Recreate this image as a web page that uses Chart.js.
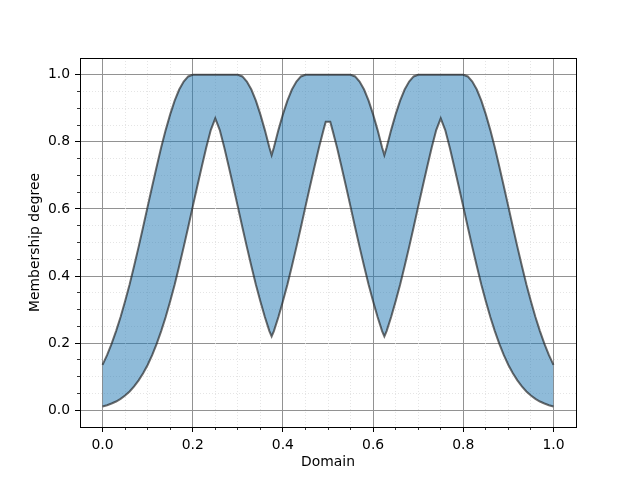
<!DOCTYPE html>
<html>
<head>
<meta charset="utf-8">
<script src="https://cdn.jsdelivr.net/npm/chart.js@4.4.1/dist/chart.umd.min.js"></script>
<style>
  body { margin: 0; background: #fff; }
</style>
</head>
<body>
<canvas id="myChart" width="640" height="480"></canvas>
<script>
// domain samples and the two membership curves
const domain = [0, 0.01, 0.02, 0.03, 0.04, 0.05, 0.06, 0.07, 0.08, 0.09,
  0.1, 0.11, 0.12, 0.13, 0.14, 0.15, 0.16, 0.17, 0.18, 0.19,
  0.2, 0.21, 0.22, 0.23, 0.24, 0.25, 0.26, 0.27, 0.28, 0.29,
  0.3, 0.31, 0.32, 0.33, 0.34, 0.35, 0.36, 0.37, 0.375, 0.38, 0.39,
  0.4, 0.41, 0.42, 0.43, 0.44, 0.45, 0.46, 0.47, 0.48, 0.49, 0.495,
  0.505, 0.51, 0.52, 0.53, 0.54, 0.55, 0.56, 0.57, 0.58, 0.59,
  0.6, 0.61, 0.62, 0.625, 0.63, 0.64, 0.65, 0.66, 0.67, 0.68, 0.69,
  0.7, 0.71, 0.72, 0.73, 0.74, 0.75, 0.76, 0.77, 0.78, 0.79,
  0.8, 0.81, 0.82, 0.83, 0.84, 0.85, 0.86, 0.87, 0.88, 0.89,
  0.9, 0.91, 0.92, 0.93, 0.94, 0.95, 0.96, 0.97, 0.98, 0.99, 1.0];

const upperMF = [0.135, 0.164, 0.198, 0.236, 0.278, 0.325, 0.375, 0.430, 0.487, 0.546,
  0.607, 0.667, 0.726, 0.783, 0.835, 0.882, 0.923, 0.956, 0.980, 0.995,
  1, 1, 1, 1, 1, 1, 1, 1, 1, 1,
  1, 0.995, 0.980, 0.956, 0.923, 0.882, 0.835, 0.783, 0.76, 0.783, 0.835,
  0.882, 0.923, 0.956, 0.980, 0.995, 1, 1, 1, 1, 1, 1,
  1, 1, 1, 1, 1, 1, 0.995, 0.980, 0.956, 0.923,
  0.882, 0.835, 0.783, 0.76, 0.783, 0.835, 0.882, 0.923, 0.956, 0.980, 0.995,
  1, 1, 1, 1, 1, 1, 1, 1, 1, 1,
  1, 0.995, 0.980, 0.956, 0.923, 0.882, 0.835, 0.783, 0.726, 0.667,
  0.607, 0.546, 0.487, 0.430, 0.375, 0.325, 0.278, 0.236, 0.198, 0.164, 0.135];

const lowerMF = [0.011, 0.015, 0.020, 0.026, 0.034, 0.044, 0.056, 0.071, 0.089, 0.110,
  0.135, 0.164, 0.198, 0.236, 0.278, 0.325, 0.375, 0.430, 0.487, 0.546,
  0.607, 0.667, 0.726, 0.783, 0.835, 0.87, 0.835, 0.783, 0.726, 0.667,
  0.607, 0.546, 0.487, 0.430, 0.375, 0.325, 0.278, 0.236, 0.22, 0.236, 0.278,
  0.325, 0.375, 0.430, 0.487, 0.546, 0.607, 0.667, 0.726, 0.783, 0.835, 0.86,
  0.86, 0.835, 0.783, 0.726, 0.667, 0.607, 0.546, 0.487, 0.430, 0.375,
  0.325, 0.278, 0.236, 0.22, 0.236, 0.278, 0.325, 0.375, 0.430, 0.487, 0.546,
  0.607, 0.667, 0.726, 0.783, 0.835, 0.87, 0.835, 0.783, 0.726, 0.667,
  0.607, 0.546, 0.487, 0.430, 0.375, 0.325, 0.278, 0.236, 0.198, 0.164,
  0.135, 0.110, 0.089, 0.071, 0.056, 0.044, 0.034, 0.026, 0.020, 0.015, 0.011];

const axisMin = -0.05;
const axisMax = 1.05;
const majorStep = 0.2;
const minorStep = 0.05;

Chart.defaults.font.family = 'DejaVu Sans';
Chart.defaults.font.size = 13.9;
Chart.defaults.color = '#000';

function isMajor(v) {
  return Math.abs(v / majorStep - Math.round(v / majorStep)) < 1e-6 && v > -1e-6 && v < 1 + 1e-6;
}
function isBound(v) {
  return Math.abs(v - axisMin) < 1e-6 || Math.abs(v - axisMax) < 1e-6;
}

// main axis: labels, major ticks, solid grid
function majorAxis(position, size, titleText, titlePad) {
  return {
    type: 'linear', position: position, weight: 1,
    min: axisMin, max: axisMax,
    ticks: {
      stepSize: majorStep, includeBounds: false, autoSkip: false, maxRotation: 0,
      padding: 5,
      callback: v => isMajor(v) ? v.toFixed(1) : ''
    },
    grid: { color: '#929292', lineWidth: 1, tickLength: 5, tickColor: '#000', tickWidth: 1 },
    border: { display: true, color: '#000', width: 1 },
    title: { display: true, text: titleText, padding: titlePad, font: { size: 13.9 } },
    afterFit: s => { if (position === 'left') s.width = size; else s.height = size; }
  };
}

// minor axis: dotted grid + short ticks, takes no space
function minorAxis(position, axis) {
  return {
    type: 'linear', axis: axis, position: position, weight: 0,
    min: axisMin, max: axisMax,
    ticks: { display: false, stepSize: minorStep, autoSkip: false },
    grid: {
      color: c => (isMajor(c.tick.value) || isBound(c.tick.value)) ? 'rgba(0,0,0,0)' : '#dedede',
      lineWidth: 0.8,
      tickLength: 3,
      tickWidth: 0.8,
      tickColor: c => (isMajor(c.tick.value) || isBound(c.tick.value)) ? 'rgba(0,0,0,0)' : '#000'
    },
    border: { display: false, dash: [1, 2] },
    afterFit: s => { if (position === 'left') s.width = 0; else s.height = 0; }
  };
}

// plain spines on top and right
function spineAxis(position, axis) {
  return {
    type: 'linear', axis: axis, position: position,
    min: axisMin, max: axisMax,
    ticks: { display: false },
    grid: { drawOnChartArea: false, drawTicks: false },
    border: { display: true, color: '#000', width: 1 },
    afterFit: s => { if (position === 'right') s.width = 0; else s.height = 0; }
  };
}

const ctx = document.getElementById('myChart').getContext('2d');

new Chart(ctx, {
  type: 'line',
  data: {
    datasets: [{
      label: 'Upper',
      data: domain.map((x, i) => ({ x: x, y: upperMF[i] })),
      xAxisID: 'x', yAxisID: 'y',
      borderColor: 'rgba(30,30,30,0.65)',
      borderWidth: 2,
      pointRadius: 0,
      tension: 0,
      fill: '+1',
      backgroundColor: 'rgba(31,119,180,0.5)'
    }, {
      label: 'Lower',
      data: domain.map((x, i) => ({ x: x, y: lowerMF[i] })),
      xAxisID: 'x', yAxisID: 'y',
      borderColor: 'rgba(30,30,30,0.65)',
      borderWidth: 2,
      pointRadius: 0,
      tension: 0,
      fill: false
    }]
  },
  options: {
    responsive: false,
    animation: false,
    layout: { padding: { top: 58, right: 64, left: 0, bottom: 0 } },
    plugins: {
      legend: { display: false },
      tooltip: { enabled: false },
      filler: { drawTime: 'beforeDatasetsDraw' }
    },
    scales: {
      x: majorAxis('bottom', 53, 'Domain', { top: 0, bottom: 9 }),
      y: majorAxis('left', 80, 'Membership degree', { top: 27, bottom: 0 }),
      xm: minorAxis('bottom', 'x'),
      ym: minorAxis('left', 'y'),
      xt: spineAxis('top', 'x'),
      yr: spineAxis('right', 'y')
    }
  }
});
</script>
</body>
</html>
